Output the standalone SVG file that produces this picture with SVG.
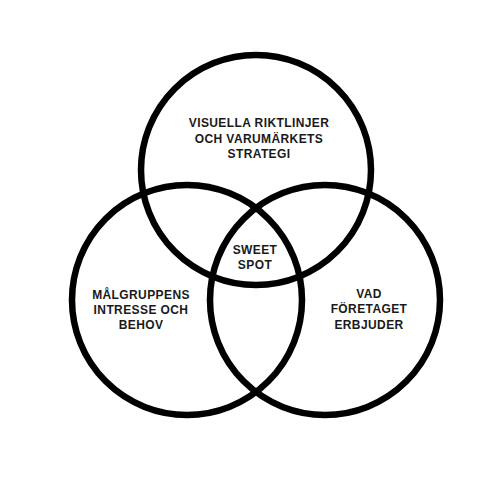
<svg xmlns="http://www.w3.org/2000/svg" width="500" height="500" viewBox="0 0 500 500">
<style>
.c{fill:none;stroke:#000;stroke-width:6.5}
.t{font-family:"Liberation Sans",Arial,sans-serif;font-weight:700;font-size:12px;letter-spacing:0.4px;fill:#1a1a1a;text-anchor:middle}
</style>
<rect width="500" height="500" fill="#fff"/>
<g id="top"><circle class="c" cx="256" cy="170" r="115"/>
<text class="t" x="259" y="127">VISUELLA RIKTLINJER</text>
<text class="t" x="259" y="143">OCH VARUMÄRKETS</text>
<text class="t" x="259" y="158">STRATEGI</text></g>
<g id="left"><circle class="c" cx="187" cy="300" r="115"/>
<text class="t" x="141" y="299">MÅLGRUPPENS</text>
<text class="t" x="141" y="314">INTRESSE OCH</text>
<text class="t" x="141" y="329">BEHOV</text></g>
<g id="right"><circle class="c" cx="325" cy="300" r="115"/>
<text class="t" x="369" y="298">VAD</text>
<text class="t" x="369" y="313">FÖRETAGET</text>
<text class="t" x="369" y="329">ERBJUDER</text></g>
<g id="center">
<text class="t" x="255" y="254">SWEET</text>
<text class="t" x="255" y="269">SPOT</text></g>
</svg>
